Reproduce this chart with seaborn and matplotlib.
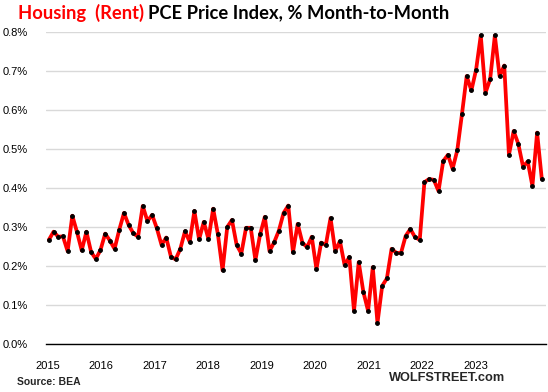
import numpy as np
import pandas as pd
import matplotlib.pyplot as plt
import seaborn as sns
from matplotlib.ticker import FuncFormatter

# Housing (rent) PCE price index, % month-to-month
rent_mom = [0.267, 0.288, 0.275, 0.276, 0.238, 0.329, 0.287, 0.240, 0.288, 0.236,
            0.218, 0.241, 0.283, 0.265, 0.244, 0.293, 0.336, 0.305, 0.284, 0.275,
            0.354, 0.315, 0.331, 0.297, 0.254, 0.273, 0.224, 0.217, 0.244, 0.289,
            0.262, 0.341, 0.268, 0.313, 0.269, 0.347, 0.282, 0.189, 0.300, 0.318,
            0.254, 0.232, 0.298, 0.298, 0.215, 0.281, 0.326, 0.238, 0.261, 0.291,
            0.336, 0.355, 0.235, 0.308, 0.260, 0.248, 0.275, 0.192, 0.260, 0.254,
            0.323, 0.238, 0.264, 0.202, 0.223, 0.085, 0.210, 0.133, 0.085, 0.197,
            0.054, 0.149, 0.168, 0.244, 0.234, 0.233, 0.277, 0.295, 0.274, 0.267,
            0.415, 0.423, 0.421, 0.392, 0.469, 0.485, 0.449, 0.497, 0.590, 0.687,
            0.650, 0.703, 0.791, 0.644, 0.679, 0.791, 0.687, 0.714, 0.485, 0.546,
            0.513, 0.455, 0.468, 0.405, 0.542, 0.423]
year_labels = ['2015', '2016', '2017', '2018', '2019', '2020', '2021', '2022', '2023']
y_ticks = [0.0, 0.1, 0.2, 0.3, 0.4, 0.5, 0.6, 0.7, 0.8]

df = pd.DataFrame({'month': np.arange(len(rent_mom)), 'pct': rent_mom})

sns.set_theme(style='white')
plt.rcParams['font.family'] = ['Liberation Sans', 'DejaVu Sans']

fig = plt.figure(figsize=(5.48, 3.92), dpi=100)
ax = fig.add_axes([0.084, 0.1224, 0.9124, 0.796])

sns.lineplot(data=df, x='month', y='pct', ax=ax, color='#ff0000', linewidth=2.7,
             marker='o', markersize=2.7, markerfacecolor='black',
             markeredgecolor='black', clip_on=False, zorder=3)

ax.set_ylim(0, 0.8)
ax.set_xlim(-0.6, 105.9)
ax.set_yticks(y_ticks)
ax.yaxis.set_major_formatter(FuncFormatter(lambda v, p: '%.1f%%' % v))
ax.set_xticks(np.linspace(-0.3, 90.9, len(year_labels)))
ax.set_xticklabels(year_labels)
ax.set_xlabel('')
ax.set_ylabel('')

ax.yaxis.grid(True, color='#d9d9d9', linewidth=1)
ax.set_axisbelow(True)
for side in ['top', 'right', 'left']:
    ax.spines[side].set_visible(False)
ax.spines['bottom'].set_color('black')
ax.spines['bottom'].set_linewidth(1)
ax.spines['bottom'].set_zorder(4)
ax.tick_params(axis='both', length=0, labelsize=8, colors='black')
ax.tick_params(axis='y', pad=13)
ax.tick_params(axis='x', pad=12)

# two-colour title
t1 = fig.text(18 / 548, 1 - 13 / 392, 'Housing  (Rent)', color='#ff0000',
              fontsize=13.2, fontweight='bold', family='Lato', va='center')
fig.canvas.draw()
bb = t1.get_window_extent()
fig.text((bb.x1 + 4) / 548, 1 - 13 / 392, 'PCE Price Index, % Month-to-Month',
         color='black', fontsize=13.2, fontweight='bold', family='Lato', va='center')

fig.text(17 / 548, 1 - 382 / 392, 'Source: BEA', fontsize=7.5, fontweight='bold',
         va='center')
fig.text(389 / 548, 1 - 378 / 392, 'WOLFSTREET.com', fontsize=9.2,
         fontweight='bold', ha='left', va='center')

plt.savefig('out.png', dpi=100)
